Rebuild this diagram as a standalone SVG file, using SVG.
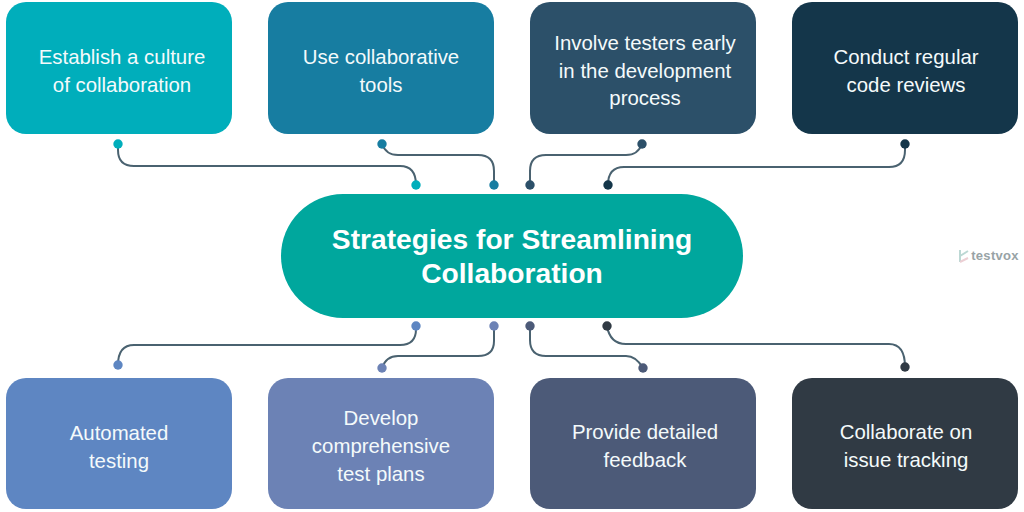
<svg xmlns="http://www.w3.org/2000/svg" width="1024" height="512" viewBox="0 0 1024 512">
<style>
text{font-family:"Liberation Sans",Arial,sans-serif;fill:#f4fafb;text-anchor:middle;font-size:20.4px}
.t{font-size:28.2px;font-weight:bold;fill:#fff}
.l{fill:none;stroke:#4a6270;stroke-width:2}
.w{font-size:13px;fill:#98a3a6;font-weight:bold;letter-spacing:.3px}
</style>
<rect width="1024" height="512" fill="#fff"/>
<g id="connectors">
<path class="l" d="M118 144V150Q118 166 134 166H400Q416 166 416 185"/>
<path class="l" d="M382 144Q386 155 398 155H478Q494 155 494 171V185"/>
<path class="l" d="M642 144Q638 155 626 155H546Q530 155 530 171V185"/>
<path class="l" d="M905 144V150Q905 167 889 167H624Q608 167 608 185"/>
<path class="l" d="M416 326V329Q416 345 400 345H134Q118 345 118 365"/>
<path class="l" d="M494 326V341Q494 356 478 356H398Q386 356 382 368"/>
<path class="l" d="M530 326V340Q530 356 546 356H626Q636 356 643 368"/>
<path class="l" d="M607 326Q610 344 626 344H889Q905 344 905 367"/>
<circle cx="118" cy="144" r="4.7" fill="#00aebb"/><circle cx="416" cy="185" r="4.7" fill="#00aebb"/>
<circle cx="382" cy="144" r="4.7" fill="#177da1"/><circle cx="494" cy="185" r="4.7" fill="#177da1"/>
<circle cx="642" cy="144" r="4.7" fill="#2c5069"/><circle cx="530" cy="185" r="4.7" fill="#2c5069"/>
<circle cx="905" cy="144" r="4.7" fill="#14364a"/><circle cx="608" cy="185" r="4.7" fill="#14364a"/>
<circle cx="416" cy="326" r="4.7" fill="#5e86c2"/><circle cx="118" cy="365" r="4.7" fill="#5e86c2"/>
<circle cx="494" cy="326" r="4.7" fill="#6c82b5"/><circle cx="382" cy="368" r="4.7" fill="#6c82b5"/>
<circle cx="530" cy="326" r="4.7" fill="#4c5a78"/><circle cx="643" cy="368" r="4.7" fill="#4c5a78"/>
<circle cx="607" cy="326" r="4.7" fill="#303a44"/><circle cx="905" cy="367" r="4.7" fill="#303a44"/>
</g>
<g id="n1"><rect x="6" y="2" width="226" height="132" rx="20" fill="#00aebb"/><text x="122" y="64">Establish a culture</text><text x="122" y="92">of collaboration</text></g>
<g id="n2"><rect x="268" y="2" width="226" height="132" rx="20" fill="#177da1"/><text x="381" y="64">Use collaborative</text><text x="381" y="92">tools</text></g>
<g id="n3"><rect x="530" y="2" width="226" height="132" rx="20" fill="#2c5069"/><text x="645" y="49.500">Involve testers early</text><text x="645" y="77.500">in the development</text><text x="645" y="105">process</text></g>
<g id="n4"><rect x="792" y="2" width="226" height="132" rx="20" fill="#14364a"/><text x="906" y="63.500">Conduct regular</text><text x="906" y="91.500">code reviews</text></g>
<g id="center"><rect x="281" y="194" width="462" height="124" rx="62" fill="#00a79d"/><text class="t" x="512" y="249">Strategies for Streamlining</text><text class="t" x="512" y="283">Collaboration</text></g>
<g id="n5"><rect x="6" y="378" width="226" height="131" rx="20" fill="#5e86c2"/><text x="119" y="439.500">Automated</text><text x="119" y="467.500">testing</text></g>
<g id="n6"><rect x="268" y="378" width="226" height="131" rx="20" fill="#6c82b5"/><text x="381" y="424.500">Develop</text><text x="381" y="452.500">comprehensive</text><text x="381" y="480.500">test plans</text></g>
<g id="n7"><rect x="530" y="378" width="226" height="131" rx="20" fill="#4c5a78"/><text x="645" y="438.500">Provide detailed</text><text x="645" y="466.500">feedback</text></g>
<g id="n8"><rect x="792" y="378" width="226" height="131" rx="20" fill="#303a44"/><text x="906" y="438.500">Collaborate on</text><text x="906" y="466.500">issue tracking</text></g>
<g id="logo"><path d="M960 250V262M960 256L968 251" fill="none" stroke="#bcd8d4" stroke-width="2"/><path d="M960 262L968 258" fill="none" stroke="#eccfd4" stroke-width="2"/><text class="w" x="995" y="260">testvox</text></g>
</svg>
